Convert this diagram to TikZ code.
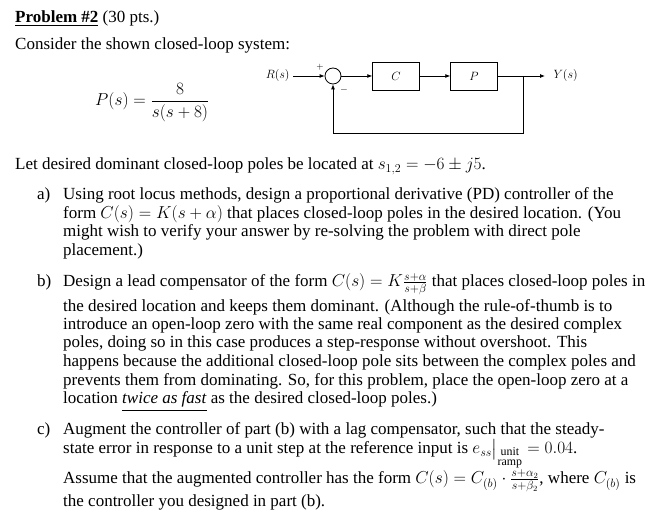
\documentclass[tikz,border=0pt]{standalone}
\usepackage{amsmath}
\usepackage{fontspec}
\setmainfont{Liberation Serif}
\usetikzlibrary{arrows.meta}
\tikzset{
  ln/.style={anchor=base west,inner sep=0pt,font=\fontsize{17}{19}\selectfont},
  blk/.style={draw,minimum width=47pt,minimum height=28pt,inner sep=0pt,font=\fontsize{13}{15}\selectfont},
  sig/.style={-{Latex[length=5pt,width=4pt]},line width=0.8pt},
  wire/.style={line width=0.8pt}
}
\begin{document}
\begin{tikzpicture}[x=1pt,y=-1pt]
\useasboundingbox (0,0) rectangle (662,526);
\node[ln] (t0) at (15,23) {\textbf{\underline{Problem \#2}} (30 pts.)};
\node[ln] (t1) at (15,50) {Consider the shown closed-loop system:};
\node[ln] (pp) at (95,106) {$P(s)=\dfrac{8}{s(s+8)}$};
% block diagram
\node[font=\fontsize{12}{14}\selectfont,anchor=east] (R) at (293,76) {$R(s)$};
\node[draw,circle,minimum size=16pt,inner sep=0pt,line width=0.8pt] (sum) at (333,76) {};
\node[blk] (C) at (396,76) {$C$};
\node[blk] (P) at (474,76) {$P$};
\coordinate (br) at (523,76);
\coordinate (out) at (545,76);
\node[font=\fontsize{12}{14}\selectfont,anchor=west] (Y) at (550,76) {$Y(s)$};
\coordinate (fb1) at (523,133);
\coordinate (fb2) at (333,133);
\draw[sig] (R) -- (sum);
\draw[sig] (sum) -- (C);
\draw[sig] (C) -- (P);
\draw[wire] (P) -- (br);
\draw[sig] (br) -- (out);
\draw[sig] (br) -- (fb1) -- (fb2) -- (sum);
\node[font=\small] (plus) at (320,67) {$+$};
\node[font=\normalsize] (minus) at (344,90) {$-$};
% text
\node[ln] (l1) at (15,170) {Let desired dominant closed-loop poles be located at $s_{1,2}=-6\pm j5$.};
\node[ln] (a) at (37,200) {a)};
\node[ln] at (63,200) {Using root locus methods, design a proportional derivative (PD) controller of the};
\node[ln] at (63,219) {form $C(s)=K(s+\alpha)$ that places closed-loop poles in the desired location. (You};
\node[ln] at (63,237) {might wish to verify your answer by re-solving the problem with direct pole};
\node[ln] at (63,256) {placement.)};
\node[ln] (b) at (37,287) {b)};
\node[ln] at (63,287) {Design a lead compensator of the form $C(s)=K\frac{s+\alpha}{s+\beta}$ that places closed-loop poles in};
\node[ln] at (63,312) {the desired location and keeps them dominant. (Although the rule-of-thumb is to};
\node[ln] at (63,330) {introduce an open-loop zero with the same real component as the desired complex};
\node[ln] at (63,348) {poles, doing so in this case produces a step-response without overshoot. This};
\node[ln] at (63,367) {happens because the additional closed-loop pole sits between the complex poles and};
\node[ln] at (63,386) {prevents them from dominating. So, for this problem, place the open-loop zero at a};
\node[ln] at (63,404) {location \underline{\textit{twice as fast}} as the desired closed-loop poles.)};
\node[ln] (c) at (37,435) {c)};
\node[ln] at (63,435) {Augment the controller of part (b) with a lag compensator, such that the steady-};
\node[ln] at (63,454) {state error in response to a unit step at the reference input is $e_{ss}\big|_{\substack{\text{unit}\\\text{ramp}}}=0.04$.};
\node[ln] at (63,484) {Assume that the augmented controller has the form $C(s)=C_{(b)}\cdot\frac{s+\alpha_2}{s+\beta_2}$, where $C_{(b)}$ is};
\node[ln] at (63,507) {the controller you designed in part (b).};
\end{tikzpicture}
\end{document}
